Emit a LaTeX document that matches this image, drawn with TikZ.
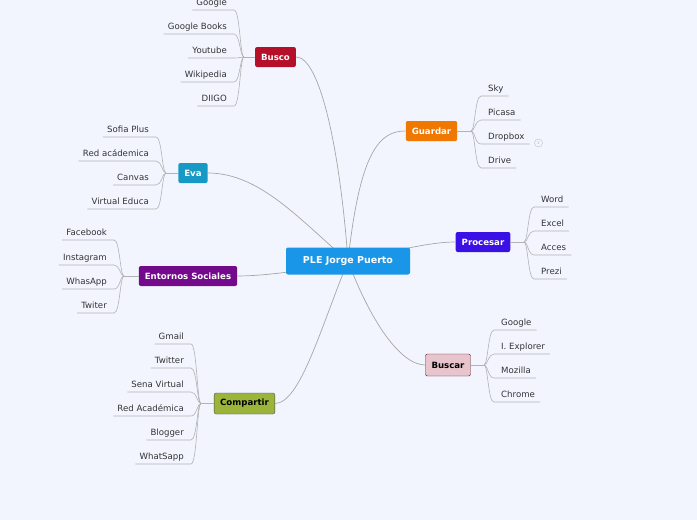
\documentclass[tikz,border=0pt]{standalone}
\usepackage{fontspec}
\setmainfont{DejaVu Sans}
\begin{document}
\begin{tikzpicture}[x=1pt,y=-1pt,
  br/.style={rounded corners=2pt,text=white,font=\fontsize{8.6}{9}\selectfont\bfseries,minimum height=20pt,inner xsep=6pt},
  lf/.style={font=\fontsize{8.6}{9}\selectfont,text=black!80,inner sep=1pt},
  ln/.style={draw=black!30,line width=0.6pt},
  mn/.style={draw=black!35,line width=0.7pt}]
\definecolor{bg}{HTML}{F2F5FE}
\fill[bg] (0,0) rectangle (697,520);
\useasboundingbox (0,0) rectangle (697,520);
\node[br,fill={rgb,255:red,181;green,16;blue,42}] (busco) at (275.5,57) {Busco};
\node[br,fill={rgb,255:red,240;green,120;blue,0}] (guardar) at (431.5,131) {Guardar};
\node[br,fill={rgb,255:red,22;green,153;blue,196}] (eva) at (193,173) {Eva};
\node[br,fill={rgb,255:red,58;green,16;blue,229}] (procesar) at (483,242) {Procesar};
\node[br,fill={rgb,255:red,115;green,10;blue,140}] (ent) at (188,276) {Entornos Sociales};
\node[br,fill={rgb,255:red,232;green,196;blue,204},draw={rgb,255:red,90;green,20;blue,30},text=black,minimum height=22pt] (buscar) at (448,365) {Buscar};
\node[br,fill={rgb,255:red,155;green,181;blue,58},draw=black!70,text=black,minimum height=21pt] (comp) at (244.5,403.5) {Compartir};
\coordinate (cc) at (348,261);
\draw[mn] (cc) .. controls (340,150) and (320,57) .. (busco.east);
\draw[mn] (cc) .. controls (360,150) and (380,131) .. (guardar.west);
\draw[mn] (cc) .. controls (300,220) and (260,173) .. (eva.east);
\draw[mn] (cc) .. controls (400,250) and (430,242) .. (procesar.west);
\draw[mn] (cc) .. controls (300,272) and (260,276) .. (ent.east);
\draw[mn] (cc) .. controls (370,320) and (400,365) .. (buscar.west);
\draw[mn] (cc) .. controls (320,330) and (300,403) .. (comp.east);
\node[br,fill={rgb,255:red,26;green,150;blue,232},minimum height=27pt,minimum width=124pt,font=\fontsize{9.5}{10}\selectfont\bfseries] (c) at (348,261) {PLE Jorge Puerto};
% Busco
\foreach \t/\y/\n in {Google/2/a,Google Books/26/b,Youtube/50/c,Wikipedia/74/d,DIIGO/98/e}{
  \node[lf,anchor=base east] (lbu\n) at (228,\y+3) {\t};
  \coordinate (ubu\n) at (234,\y+8);
  \draw[ln] ([xshift=-3pt]lbu\n.base west|-ubu\n) -- (ubu\n) .. controls (240,\y+8) and (240,57) .. (244,57);
}
\draw[ln] (244,57) -- (busco.west);
% Eva
\foreach \t/\y/\n in {Sofia Plus/129/a,Red acádemica/153/b,Canvas/177/c,Virtual Educa/201/d}{
  \node[lf,anchor=base east] (lev\n) at (150,\y+3) {\t};
  \coordinate (uev\n) at (156,\y+8);
  \draw[ln] ([xshift=-3pt]lev\n.base west|-uev\n) -- (uev\n) .. controls (162,\y+8) and (162,173) .. (166,173);
}
\draw[ln] (166,173) -- (eva.west);
% Entornos
\foreach \t/\y/\n in {Facebook/232/a,Instagram/257/b,WhasApp/281/c,Twiter/305/d}{
  \node[lf,anchor=base east] (len\n) at (108,\y+3) {\t};
  \coordinate (uen\n) at (114,\y+8);
  \draw[ln] ([xshift=-3pt]len\n.base west|-uen\n) -- (uen\n) .. controls (120,\y+8) and (120,276) .. (124,276);
}
\draw[ln] (124,276) -- (ent.west);
% Compartir
\foreach \t/\y/\n in {Gmail/336/a,Twitter/360/b,Sena Virtual/384/c,Red Académica/408/d,Blogger/432/e,WhatSapp/456/f}{
  \node[lf,anchor=base east] (lco\n) at (185,\y+3) {\t};
  \coordinate (uco\n) at (191,\y+8);
  \draw[ln] ([xshift=-3pt]lco\n.base west|-uco\n) -- (uco\n) .. controls (197,\y+8) and (197,403.5) .. (201,403.5);
}
\draw[ln] (201,403.5) -- (comp.west);
% Guardar
\foreach \t/\y/\n in {Sky/88/a,Picasa/112/b,Dropbox/136/c,Drive/160/d}{
  \node[lf,anchor=base west] (lgu\n) at (487,\y+3) {\t};
  \coordinate (ugu\n) at (481,\y+8);
  \draw[ln] ([xshift=4pt]lgu\n.base east|-ugu\n) -- (ugu\n) .. controls (475,\y+8) and (475,131) .. (471,131);
}
\draw[ln] (471,131) -- (guardar.east);
\node[draw=black!25,circle,inner sep=0pt,minimum size=8pt,font=\fontsize{4}{4}\selectfont,text=black!30] (gcount) at (538.5,143) {1};
% Procesar
\foreach \t/\y/\n in {Word/199/a,Excel/223/b,Acces/247/c,Prezi/271/d}{
  \node[lf,anchor=base west] (lpr\n) at (540,\y+3) {\t};
  \coordinate (upr\n) at (534,\y+8);
  \draw[ln] ([xshift=4pt]lpr\n.base east|-upr\n) -- (upr\n) .. controls (528,\y+8) and (528,242) .. (524,242);
}
\draw[ln] (524,242) -- (procesar.east);
% Buscar
\foreach \t/\y/\n in {Google/322/a,I. Explorer/346/b,Mozilla/370/c,Chrome/394/d}{
  \node[lf,anchor=base west] (lbs\n) at (500,\y+3) {\t};
  \coordinate (ubs\n) at (494,\y+8);
  \draw[ln] ([xshift=4pt]lbs\n.base east|-ubs\n) -- (ubs\n) .. controls (488,\y+8) and (488,365) .. (484,365);
}
\draw[ln] (484,365) -- (buscar.east);
\end{tikzpicture}
\end{document}
